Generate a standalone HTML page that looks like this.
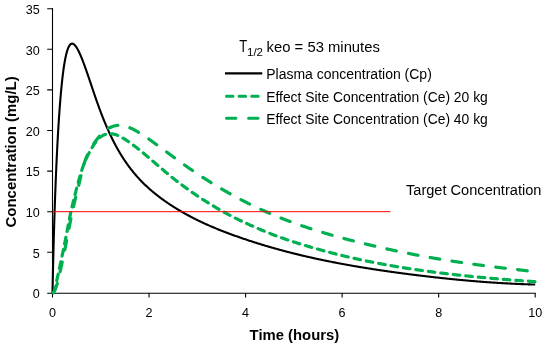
<!DOCTYPE html>
<html lang="en"><head><meta charset="utf-8"><title>Concentration vs Time</title>
<style>html,body{margin:0;padding:0;background:#fff}svg{display:block}text{font-family:"Liberation Sans",sans-serif;fill:#000}</style></head><body>
<svg width="550" height="349" viewBox="0 0 550 349">
<rect width="550" height="349" fill="#fff"/>
<path d="M52.5,8.10 V297.5 M47.2,293.2 H535.80 M47.2,252.30 H52.5 M47.2,211.70 H52.5 M47.2,171.10 H52.5 M47.2,130.50 H52.5 M47.2,89.90 H52.5 M47.2,49.30 H52.5 M47.2,8.70 H52.5 M149.04,293.2 V297.5 M245.58,293.2 V297.5 M342.12,293.2 V297.5 M438.66,293.2 V297.5 M535.20,293.2 V297.5" stroke="#000" stroke-width="1.1" fill="none"/>
<path d="M52.50,292.90 L52.51,292.20 L52.53,291.50 L52.54,290.80 L52.56,290.10 L52.57,289.40 L52.59,288.70 L52.60,288.00 L52.62,287.30 L52.64,286.60 L52.65,285.89 L52.67,285.19 L52.68,284.49 L52.70,283.79 L52.71,283.09 L52.73,282.39 L52.74,281.69 L52.76,280.99 L52.78,280.29 L52.79,279.59 L52.81,278.89 L52.83,278.19 L52.84,277.49 L52.86,276.79 L52.87,276.09 L52.89,275.39 L52.90,274.69 L52.92,273.99 L52.93,273.29 L52.95,272.58 L52.96,271.88 L52.98,271.18 L52.99,270.48 L53.01,269.78 L53.02,269.08 L53.04,268.38 L53.05,267.68 L53.07,266.98 L53.09,266.28 L53.10,265.58 L53.12,264.88 L53.13,264.18 L53.15,263.48 L53.17,262.78 L53.18,262.08 L53.20,261.38 L53.22,260.68 L53.23,259.98 L53.25,259.27 L53.27,258.57 L53.28,257.87 L53.30,257.17 L53.32,256.47 L53.34,255.77 L53.35,255.07 L53.37,254.37 L53.39,253.67 L53.41,252.97 L53.42,252.27 L53.44,251.57 L53.46,250.87 L53.48,250.17 L53.49,249.47 L53.51,248.77 L53.53,248.07 L53.55,247.37 L53.57,246.67 L53.59,245.97 L53.60,245.27 L53.62,244.56 L53.64,243.86 L53.66,243.16 L53.68,242.46 L53.70,241.76 L53.72,241.06 L53.74,240.36 L53.75,239.66 L53.77,238.96 L53.79,238.26 L53.81,237.56 L53.83,236.86 L53.85,236.16 L53.87,235.46 L53.89,234.76 L53.91,234.06 L53.93,233.36 L53.95,232.66 L53.97,231.96 L53.99,231.26 L54.01,230.56 L54.03,229.86 L54.05,229.16 L54.07,228.46 L54.09,227.75 L54.12,227.05 L54.14,226.35 L54.16,225.65 L54.18,224.95 L54.20,224.25 L54.22,223.55 L54.24,222.85 L54.26,222.15 L54.29,221.45 L54.31,220.75 L54.33,220.05 L54.35,219.35 L54.37,218.65 L54.40,217.95 L54.42,217.25 L54.44,216.55 L54.46,215.85 L54.48,215.15 L54.51,214.45 L54.53,213.75 L54.55,213.05 L54.58,212.35 L54.60,211.65 L54.62,210.95 L54.65,210.25 L54.67,209.55 L54.69,208.85 L54.72,208.15 L54.74,207.45 L54.76,206.74 L54.79,206.04 L54.81,205.34 L54.83,204.64 L54.86,203.94 L54.88,203.24 L54.91,202.54 L54.93,201.84 L54.96,201.14 L54.98,200.44 L55.01,199.74 L55.03,199.04 L55.06,198.34 L55.08,197.64 L55.11,196.94 L55.13,196.24 L55.16,195.54 L55.18,194.84 L55.21,194.14 L55.24,193.44 L55.26,192.74 L55.29,192.04 L55.32,191.34 L55.34,190.64 L55.37,189.94 L55.40,189.24 L55.42,188.54 L55.45,187.84 L55.48,187.14 L55.50,186.44 L55.53,185.74 L55.56,185.04 L55.59,184.34 L55.61,183.64 L55.64,182.94 L55.67,182.24 L55.70,181.54 L55.73,180.84 L55.75,180.14 L55.78,179.44 L55.81,178.74 L55.84,178.04 L55.87,177.34 L55.90,176.64 L55.93,175.94 L55.96,175.24 L55.99,174.54 L56.02,173.84 L56.05,173.14 L56.08,172.44 L56.11,171.74 L56.14,171.04 L56.17,170.34 L56.20,169.64 L56.23,168.94 L56.26,168.24 L56.29,167.54 L56.32,166.84 L56.35,166.14 L56.38,165.44 L56.42,164.74 L56.45,164.04 L56.48,163.34 L56.51,162.64 L56.54,161.94 L56.58,161.24 L56.61,160.54 L56.64,159.84 L56.68,159.14 L56.71,158.44 L56.74,157.74 L56.78,157.04 L56.81,156.34 L56.84,155.64 L56.88,154.94 L56.91,154.24 L56.95,153.54 L56.98,152.84 L57.02,152.14 L57.05,151.44 L57.09,150.74 L57.12,150.04 L57.16,149.34 L57.19,148.64 L57.23,147.94 L57.26,147.24 L57.30,146.54 L57.34,145.84 L57.37,145.14 L57.41,144.44 L57.45,143.74 L57.49,143.04 L57.52,142.34 L57.56,141.65 L57.60,140.95 L57.64,140.25 L57.68,139.55 L57.71,138.85 L57.75,138.15 L57.79,137.45 L57.83,136.75 L57.87,136.05 L57.91,135.35 L57.95,134.65 L57.99,133.95 L58.03,133.25 L58.07,132.55 L58.11,131.85 L58.15,131.15 L58.20,130.45 L58.24,129.75 L58.28,129.06 L58.32,128.36 L58.36,127.66 L58.41,126.96 L58.45,126.26 L58.49,125.56 L58.54,124.86 L58.58,124.16 L58.63,123.46 L58.67,122.76 L58.72,122.06 L58.76,121.36 L58.81,120.66 L58.85,119.97 L58.90,119.27 L58.94,118.57 L58.99,117.87 L59.04,117.17 L59.09,116.47 L59.13,115.77 L59.18,115.07 L59.23,114.37 L59.28,113.68 L59.33,112.98 L59.38,112.28 L59.43,111.58 L59.48,110.88 L59.53,110.18 L59.58,109.48 L59.63,108.78 L59.68,108.09 L59.73,107.39 L59.79,106.69 L59.84,105.99 L59.89,105.29 L59.95,104.59 L60.00,103.89 L60.05,103.20 L60.11,102.50 L60.17,101.80 L60.22,101.10 L60.28,100.40 L60.34,99.70 L60.39,99.01 L60.45,98.31 L60.51,97.61 L60.57,96.91 L60.63,96.21 L60.69,95.52 L60.75,94.82 L60.81,94.12 L60.87,93.42 L60.94,92.73 L61.00,92.03 L61.06,91.33 L61.13,90.63 L61.19,89.94 L61.26,89.24 L61.32,88.54 L61.39,87.84 L61.46,87.15 L61.53,86.45 L61.60,85.75 L61.67,85.06 L61.74,84.36 L61.81,83.66 L61.88,82.97 L61.96,82.27 L62.03,81.57 L62.11,80.88 L62.18,80.18 L62.26,79.48 L62.34,78.79 L62.42,78.09 L62.50,77.40 L62.58,76.70 L62.66,76.01 L62.75,75.31 L62.83,74.62 L62.92,73.92 L63.01,73.23 L63.10,72.53 L63.19,71.84 L63.28,71.14 L63.37,70.45 L63.47,69.76 L63.56,69.06 L63.66,68.37 L63.76,67.68 L63.86,66.98 L63.97,66.29 L64.07,65.60 L64.18,64.91 L64.29,64.22 L64.41,63.52 L64.52,62.83 L64.64,62.14 L64.76,61.46 L64.88,60.77 L65.01,60.08 L65.14,59.39 L65.27,58.70 L65.41,58.02 L65.55,57.33 L65.70,56.65 L65.85,55.96 L66.00,55.28 L66.16,54.60 L66.33,53.92 L66.50,53.24 L66.68,52.57 L66.87,51.90 L67.06,51.22 L67.27,50.56 L67.49,49.89 L67.71,49.23 L67.96,48.58 L68.22,47.93 L68.50,47.29 L68.80,46.67 L69.13,46.06 L69.49,45.47 L69.90,44.91 L70.37,44.41 L70.90,43.99 L71.51,43.70 L72.18,43.61 L72.84,43.73 L73.46,44.01 L74.03,44.40 L74.54,44.86 L75.02,45.37 L75.47,45.91 L75.89,46.46 L76.28,47.04 L76.66,47.63 L77.03,48.22 L77.38,48.83 L77.72,49.44 L78.05,50.06 L78.37,50.68 L78.68,51.31 L78.99,51.94 L79.29,52.57 L79.58,53.21 L79.87,53.84 L80.16,54.48 L80.44,55.13 L80.71,55.77 L80.99,56.42 L81.26,57.06 L81.52,57.71 L81.79,58.36 L82.05,59.01 L82.30,59.66 L82.56,60.32 L82.81,60.97 L83.06,61.62 L83.31,62.28 L83.56,62.93 L83.81,63.59 L84.05,64.25 L84.29,64.90 L84.54,65.56 L84.78,66.22 L85.01,66.88 L85.25,67.54 L85.49,68.20 L85.72,68.86 L85.96,69.52 L86.19,70.18 L86.42,70.84 L86.65,71.50 L86.89,72.16 L87.11,72.83 L87.34,73.49 L87.57,74.15 L87.80,74.81 L88.03,75.48 L88.25,76.14 L88.48,76.80 L88.71,77.47 L88.93,78.13 L89.16,78.79 L89.38,79.46 L89.60,80.12 L89.83,80.79 L90.05,81.45 L90.27,82.11 L90.50,82.78 L90.72,83.44 L90.94,84.11 L91.17,84.77 L91.39,85.44 L91.61,86.10 L91.84,86.76 L92.06,87.43 L92.28,88.09 L92.51,88.76 L92.73,89.42 L92.95,90.08 L93.18,90.75 L93.40,91.41 L93.63,92.08 L93.85,92.74 L94.08,93.40 L94.31,94.07 L94.53,94.73 L94.76,95.39 L94.99,96.05 L95.21,96.72 L95.44,97.38 L95.67,98.04 L95.90,98.70 L96.13,99.37 L96.36,100.03 L96.59,100.69 L96.82,101.35 L97.06,102.01 L97.29,102.67 L97.53,103.33 L97.76,103.99 L98.00,104.65 L98.23,105.31 L98.47,105.97 L98.71,106.63 L98.95,107.29 L99.19,107.95 L99.43,108.61 L99.68,109.26 L99.92,109.92 L100.16,110.58 L100.41,111.23 L100.66,111.89 L100.91,112.55 L101.15,113.20 L101.40,113.86 L101.66,114.51 L101.91,115.16 L102.16,115.82 L102.42,116.47 L102.68,117.12 L102.93,117.77 L103.19,118.42 L103.45,119.08 L103.72,119.73 L103.98,120.38 L104.24,121.03 L104.51,121.67 L104.78,122.32 L105.05,122.97 L105.32,123.62 L105.59,124.26 L105.86,124.91 L106.14,125.55 L106.41,126.20 L106.69,126.84 L106.97,127.48 L107.25,128.13 L107.53,128.77 L107.82,129.41 L108.10,130.05 L108.39,130.69 L108.68,131.33 L108.97,131.97 L109.26,132.60 L109.56,133.24 L109.85,133.88 L110.15,134.51 L110.45,135.15 L110.75,135.78 L111.05,136.41 L111.36,137.04 L111.67,137.67 L111.97,138.30 L112.28,138.93 L112.60,139.56 L112.91,140.19 L113.23,140.81 L113.55,141.44 L113.87,142.06 L114.19,142.68 L114.51,143.31 L114.84,143.93 L115.17,144.55 L115.50,145.16 L115.83,145.78 L116.17,146.40 L116.50,147.01 L116.84,147.63 L117.18,148.24 L117.53,148.85 L117.87,149.46 L118.22,150.07 L118.57,150.68 L118.92,151.28 L119.28,151.89 L119.63,152.49 L119.99,153.10 L120.36,153.70 L120.72,154.30 L121.09,154.89 L121.45,155.49 L121.83,156.09 L122.20,156.68 L122.58,157.27 L122.95,157.86 L123.33,158.45 L123.72,159.04 L124.10,159.62 L124.49,160.21 L124.88,160.79 L125.28,161.37 L125.67,161.95 L126.07,162.53 L126.47,163.10 L126.87,163.67 L127.28,164.25 L127.69,164.82 L128.10,165.38 L128.51,165.95 L128.93,166.51 L129.35,167.08 L129.77,167.64 L130.20,168.19 L130.62,168.75 L131.05,169.30 L131.48,169.86 L131.92,170.41 L132.36,170.95 L132.80,171.50 L133.24,172.04 L133.68,172.59 L134.13,173.13 L134.58,173.66 L135.03,174.20 L135.49,174.73 L135.95,175.26 L136.41,175.79 L136.87,176.32 L137.34,176.84 L137.80,177.36 L138.28,177.88 L138.75,178.40 L139.22,178.91 L139.70,179.42 L140.18,179.93 L140.67,180.44 L141.15,180.95 L141.64,181.45 L142.13,181.95 L142.62,182.45 L143.12,182.94 L143.62,183.44 L144.12,183.93 L144.62,184.41 L145.12,184.90 L145.63,185.38 L146.14,185.87 L146.65,186.34 L147.17,186.82 L147.68,187.30 L148.20,187.77 L148.72,188.24 L149.24,188.70 L149.77,189.17 L150.29,189.63 L150.82,190.09 L151.35,190.55 L151.89,191.00 L152.42,191.45 L152.96,191.90 L153.50,192.35 L154.04,192.80 L154.58,193.24 L155.12,193.68 L155.67,194.12 L156.22,194.56 L156.77,194.99 L157.32,195.43 L157.87,195.86 L158.43,196.28 L158.98,196.71 L159.54,197.13 L160.10,197.55 L160.66,197.97 L161.23,198.39 L161.79,198.81 L162.36,199.22 L162.92,199.63 L163.49,200.04 L164.06,200.44 L164.64,200.85 L165.21,201.25 L165.79,201.65 L166.36,202.05 L166.94,202.45 L167.52,202.84 L168.10,203.24 L168.68,203.63 L169.26,204.02 L169.85,204.41 L170.43,204.79 L171.02,205.17 L171.61,205.56 L172.20,205.94 L172.79,206.32 L173.38,206.69 L173.97,207.07 L174.56,207.44 L175.16,207.81 L175.75,208.18 L176.35,208.55 L176.95,208.91 L177.55,209.28 L178.15,209.64 L178.75,210.00 L179.35,210.36 L179.96,210.72 L180.56,211.07 L181.17,211.42 L181.77,211.78 L182.38,212.13 L182.99,212.48 L183.60,212.82 L184.21,213.17 L184.82,213.51 L185.43,213.85 L186.04,214.19 L186.66,214.53 L187.27,214.87 L187.89,215.20 L188.51,215.54 L189.12,215.87 L189.74,216.20 L190.36,216.53 L190.98,216.85 L191.61,217.18 L192.23,217.50 L192.85,217.83 L193.47,218.15 L194.10,218.46 L194.72,218.78 L195.35,219.10 L195.98,219.41 L196.61,219.72 L197.23,220.03 L197.86,220.34 L198.49,220.65 L199.13,220.96 L199.76,221.26 L200.39,221.56 L201.02,221.86 L201.66,222.16 L202.29,222.46 L202.93,222.76 L203.57,223.05 L204.20,223.34 L204.84,223.64 L205.48,223.93 L206.12,224.21 L206.76,224.50 L207.40,224.79 L208.04,225.07 L208.68,225.35 L209.32,225.63 L209.97,225.91 L210.61,226.19 L211.25,226.47 L211.90,226.74 L212.54,227.02 L213.19,227.29 L213.84,227.56 L214.48,227.83 L215.13,228.10 L215.78,228.37 L216.43,228.64 L217.08,228.90 L217.73,229.16 L218.38,229.43 L219.03,229.69 L219.68,229.95 L220.33,230.21 L220.98,230.47 L221.63,230.72 L222.29,230.98 L222.94,231.23 L223.59,231.49 L224.25,231.74 L224.90,231.99 L225.55,232.24 L226.21,232.49 L226.86,232.74 L227.52,232.99 L228.18,233.24 L228.83,233.48 L229.49,233.73 L230.15,233.97 L230.80,234.21 L231.46,234.45 L232.12,234.70 L232.78,234.94 L233.44,235.17 L234.10,235.41 L234.75,235.65 L235.41,235.89 L236.07,236.12 L236.73,236.36 L237.39,236.59 L238.06,236.83 L238.72,237.06 L239.38,237.29 L240.04,237.52 L240.70,237.75 L241.36,237.98 L242.03,238.21 L242.69,238.43 L243.35,238.66 L244.01,238.89 L244.68,239.11 L245.34,239.33 L246.01,239.56 L246.67,239.78 L247.34,240.00 L248.00,240.22 L248.67,240.44 L249.33,240.66 L250.00,240.88 L250.66,241.10 L251.33,241.31 L251.99,241.53 L252.66,241.75 L253.33,241.96 L254.00,242.17 L254.66,242.39 L255.33,242.60 L256.00,242.81 L256.67,243.02 L257.33,243.23 L258.00,243.44 L258.67,243.65 L259.34,243.86 L260.01,244.06 L260.68,244.27 L261.35,244.47 L262.02,244.68 L262.69,244.88 L263.36,245.08 L264.03,245.29 L264.70,245.49 L265.37,245.69 L266.04,245.89 L266.72,246.09 L267.39,246.29 L268.06,246.48 L268.73,246.68 L269.40,246.88 L270.08,247.07 L270.75,247.27 L271.42,247.46 L272.10,247.65 L272.77,247.85 L273.44,248.04 L274.12,248.23 L274.79,248.42 L275.47,248.61 L276.14,248.80 L276.82,248.98 L277.49,249.17 L278.17,249.36 L278.84,249.54 L279.52,249.73 L280.19,249.91 L280.87,250.10 L281.54,250.28 L282.22,250.46 L282.90,250.65 L283.57,250.83 L284.25,251.01 L284.93,251.19 L285.60,251.37 L286.28,251.54 L286.96,251.72 L287.64,251.90 L288.32,252.07 L288.99,252.25 L289.67,252.42 L290.35,252.60 L291.03,252.77 L291.71,252.94 L292.39,253.11 L293.07,253.29 L293.75,253.46 L294.43,253.63 L295.10,253.80 L295.78,253.96 L296.46,254.13 L297.15,254.30 L297.83,254.47 L298.51,254.63 L299.19,254.80 L299.87,254.96 L300.55,255.12 L301.23,255.29 L301.91,255.45 L302.59,255.61 L303.27,255.77 L303.96,255.93 L304.64,256.09 L305.32,256.25 L306.00,256.41 L306.69,256.57 L307.37,256.72 L308.05,256.88 L308.73,257.04 L309.42,257.19 L310.10,257.35 L310.78,257.50 L311.47,257.65 L312.15,257.81 L312.83,257.96 L313.52,258.11 L314.20,258.26 L314.89,258.41 L315.57,258.56 L316.25,258.71 L316.94,258.86 L317.62,259.01 L318.31,259.15 L318.99,259.30 L319.68,259.45 L320.36,259.59 L321.05,259.74 L321.74,259.88 L322.42,260.02 L323.11,260.17 L323.79,260.31 L324.48,260.45 L325.16,260.59 L325.85,260.73 L326.54,260.87 L327.22,261.01 L327.91,261.15 L328.60,261.29 L329.28,261.43 L329.97,261.56 L330.66,261.70 L331.34,261.84 L332.03,261.97 L332.72,262.11 L333.41,262.24 L334.09,262.38 L334.78,262.51 L335.47,262.64 L336.16,262.78 L336.85,262.91 L337.53,263.04 L338.22,263.17 L338.91,263.30 L339.60,263.43 L340.29,263.56 L340.98,263.69 L341.66,263.82 L342.35,263.94 L343.04,264.07 L343.73,264.20 L344.42,264.32 L345.11,264.45 L345.80,264.57 L346.49,264.70 L347.18,264.82 L347.87,264.95 L348.56,265.07 L349.25,265.19 L349.94,265.32 L350.63,265.44 L351.32,265.56 L352.01,265.68 L352.70,265.80 L353.39,265.92 L354.08,266.04 L354.77,266.16 L355.46,266.28 L356.15,266.39 L356.84,266.51 L357.53,266.63 L358.22,266.74 L358.91,266.86 L359.60,266.98 L360.29,267.09 L360.98,267.21 L361.67,267.32 L362.37,267.43 L363.06,267.55 L363.75,267.66 L364.44,267.77 L365.13,267.89 L365.82,268.00 L366.51,268.11 L367.21,268.22 L367.90,268.33 L368.59,268.44 L369.28,268.55 L369.97,268.66 L370.67,268.77 L371.36,268.88 L372.05,268.98 L372.74,269.09 L373.44,269.20 L374.13,269.31 L374.82,269.41 L375.51,269.52 L376.21,269.62 L376.90,269.73 L377.59,269.83 L378.28,269.94 L378.98,270.04 L379.67,270.14 L380.36,270.25 L381.06,270.35 L381.75,270.45 L382.44,270.56 L383.13,270.66 L383.83,270.76 L384.52,270.86 L385.21,270.96 L385.91,271.06 L386.60,271.16 L387.30,271.26 L387.99,271.36 L388.68,271.46 L389.38,271.56 L390.07,271.65 L390.76,271.75 L391.46,271.85 L392.15,271.95 L392.85,272.04 L393.54,272.14 L394.23,272.23 L394.93,272.33 L395.62,272.43 L396.32,272.52 L397.01,272.61 L397.70,272.71 L398.40,272.80 L399.09,272.90 L399.79,272.99 L400.48,273.08 L401.18,273.18 L401.87,273.27 L402.57,273.36 L403.26,273.45 L403.96,273.54 L404.65,273.63 L405.35,273.72 L406.04,273.82 L406.73,273.91 L407.43,274.00 L408.12,274.08 L408.82,274.17 L409.51,274.26 L410.21,274.35 L410.91,274.44 L411.60,274.53 L412.30,274.62 L412.99,274.70 L413.69,274.79 L414.38,274.88 L415.08,274.96 L415.77,275.05 L416.47,275.14 L417.16,275.22 L417.86,275.31 L418.55,275.39 L419.25,275.48 L419.95,275.56 L420.64,275.65 L421.34,275.73 L422.03,275.81 L422.73,275.90 L423.42,275.98 L424.12,276.06 L424.82,276.15 L425.51,276.23 L426.21,276.31 L426.90,276.39 L427.60,276.47 L428.30,276.55 L428.99,276.64 L429.69,276.72 L430.39,276.80 L431.08,276.88 L431.78,276.96 L432.47,277.03 L433.17,277.11 L433.87,277.19 L434.56,277.27 L435.26,277.35 L435.96,277.43 L436.65,277.50 L437.35,277.58 L438.05,277.66 L438.74,277.73 L439.44,277.81 L440.14,277.88 L440.83,277.96 L441.53,278.03 L442.23,278.11 L442.92,278.18 L443.62,278.26 L444.32,278.33 L445.02,278.40 L445.71,278.48 L446.41,278.55 L447.11,278.62 L447.80,278.69 L448.50,278.77 L449.20,278.84 L449.90,278.91 L450.59,278.98 L451.29,279.05 L451.99,279.12 L452.69,279.19 L453.38,279.26 L454.08,279.33 L454.78,279.40 L455.48,279.46 L456.17,279.53 L456.87,279.60 L457.57,279.67 L458.27,279.73 L458.96,279.80 L459.66,279.86 L460.36,279.93 L461.06,280.00 L461.76,280.06 L462.45,280.13 L463.15,280.19 L463.85,280.25 L464.55,280.32 L465.25,280.38 L465.94,280.44 L466.64,280.50 L467.34,280.57 L468.04,280.63 L468.74,280.69 L469.43,280.75 L470.13,280.81 L470.83,280.87 L471.53,280.93 L472.23,280.99 L472.93,281.05 L473.63,281.11 L474.32,281.16 L475.02,281.22 L475.72,281.28 L476.42,281.34 L477.12,281.39 L477.82,281.45 L478.52,281.51 L479.21,281.56 L479.91,281.62 L480.61,281.67 L481.31,281.72 L482.01,281.78 L482.71,281.83 L483.41,281.88 L484.11,281.94 L484.81,281.99 L485.50,282.04 L486.20,282.09 L486.90,282.14 L487.60,282.19 L488.30,282.24 L489.00,282.29 L489.70,282.34 L490.40,282.39 L491.10,282.44 L491.80,282.49 L492.50,282.53 L493.20,282.58 L493.89,282.63 L494.59,282.67 L495.29,282.72 L495.99,282.76 L496.69,282.81 L497.39,282.85 L498.09,282.90 L498.79,282.94 L499.49,282.98 L500.19,283.02 L500.89,283.07 L501.59,283.11 L502.29,283.15 L502.99,283.19 L503.69,283.23 L504.39,283.27 L505.09,283.31 L505.79,283.35 L506.49,283.39 L507.19,283.42 L507.89,283.46 L508.59,283.50 L509.29,283.54 L509.99,283.57 L510.69,283.61 L511.39,283.64 L512.09,283.68 L512.79,283.71 L513.49,283.74 L514.19,283.78 L514.89,283.81 L515.59,283.84 L516.29,283.87 L516.99,283.91 L517.69,283.94 L518.39,283.97 L519.09,284.00 L519.79,284.03 L520.49,284.05 L521.19,284.08 L521.89,284.11 L522.59,284.14 L523.29,284.16 L523.99,284.19 L524.69,284.22 L525.39,284.24 L526.09,284.27 L526.79,284.29 L527.49,284.31 L528.19,284.34 L528.89,284.36 L529.60,284.38 L530.30,284.40 L531.00,284.43 L531.70,284.45 L532.40,284.47 L533.10,284.49 L533.80,284.50 L534.50,284.52 L535.20,284.54" stroke="#000" stroke-width="2.1" fill="none" stroke-linejoin="round"/>
<path d="M52.50,292.90 L53.14,292.65 L53.64,292.15 L54.04,291.57 L54.39,290.96 L54.71,290.32 L55.01,289.68 L55.29,289.02 L55.56,288.36 L55.82,287.69 L56.07,287.02 L56.31,286.35 L56.54,285.67 L56.77,285.00 L56.99,284.32 L57.21,283.64 L57.41,282.96 L57.61,282.28 L57.80,281.59 L57.98,280.91 L58.15,280.23 L58.31,279.54 L58.47,278.86 L58.63,278.18 L58.79,277.50 L58.95,276.81 L59.11,276.13 L59.26,275.45 L59.42,274.77 L59.58,274.08 L59.73,273.40 L59.88,272.72 L60.04,272.03 L60.19,271.35 L60.34,270.66 L60.49,269.98 L60.64,269.30 L60.80,268.61 L60.95,267.93 L61.10,267.24 L61.25,266.56 L61.40,265.87 L61.55,265.19 L61.69,264.50 L61.84,263.82 L61.99,263.13 L62.14,262.45 L62.29,261.76 L62.44,261.08 L62.58,260.39 L62.73,259.70 L62.88,259.02 L63.02,258.33 L63.17,257.65 L63.31,256.96 L63.46,256.28 L63.60,255.59 L63.74,254.90 L63.89,254.22 L64.03,253.53 L64.17,252.84 L64.32,252.16 L64.46,251.47 L64.60,250.78 L64.74,250.10 L64.88,249.41 L65.02,248.72 L65.16,248.03 L65.29,247.35 L65.43,246.66 L65.57,245.97 L65.70,245.28 L65.84,244.60 L65.98,243.91 L66.11,243.22 L66.25,242.53 L66.38,241.84 L66.52,241.16 L66.65,240.47 L66.78,239.78 L66.92,239.09 L67.05,238.40 L67.19,237.72 L67.32,237.03 L67.45,236.34 L67.59,235.65 L67.72,234.96 L67.85,234.27 L67.99,233.59 L68.12,232.90 L68.25,232.21 L68.39,231.52 L68.52,230.83 L68.65,230.14 L68.79,229.46 L68.92,228.77 L69.05,228.08 L69.19,227.39 L69.32,226.70 L69.46,226.02 L69.59,225.33 L69.73,224.64 L69.87,223.95 L70.00,223.26 L70.14,222.58 L70.28,221.89 L70.41,221.20 L70.55,220.52 L70.69,219.83 L70.83,219.14 L70.97,218.45 L71.11,217.77 L71.25,217.08 L71.39,216.39 L71.53,215.71 L71.68,215.02 L71.82,214.33 L71.97,213.65 L72.11,212.96 L72.26,212.28 L72.40,211.59 L72.55,210.91 L72.70,210.22 L72.85,209.54 L73.00,208.85 L73.15,208.17 L73.30,207.48 L73.45,206.80 L73.61,206.11 L73.76,205.43 L73.92,204.75 L74.08,204.06 L74.24,203.38 L74.40,202.70 L74.56,202.02 L74.72,201.33 L74.88,200.65 L75.05,199.97 L75.21,199.29 L75.38,198.61 L75.54,197.93 L75.71,197.25 L75.88,196.57 L76.05,195.89 L76.22,195.21 L76.39,194.53 L76.56,193.85 L76.73,193.17 L76.91,192.49 L77.08,191.81 L77.25,191.13 L77.43,190.45 L77.60,189.77 L77.77,189.09 L77.95,188.41 L78.12,187.74 L78.29,187.06 L78.45,186.38 L78.62,185.70 L78.78,185.02 L78.95,184.35 L79.11,183.67 L79.27,182.99 L79.43,182.31 L79.59,181.63 L79.75,180.96 L79.91,180.28 L80.06,179.60 L80.22,178.92 L80.38,178.24 L80.53,177.57 L80.69,176.89 L80.84,176.21 L81.00,175.53 L81.15,174.85 L81.31,174.17 L81.47,173.50 L81.63,172.82 L81.79,172.14 L81.95,171.47 L82.12,170.79 L82.29,170.11 L82.46,169.44 L82.63,168.76 L82.81,168.09 L82.99,167.42 L83.18,166.74 L83.37,166.07 L83.56,165.40 L83.76,164.73 L83.97,164.06 L84.18,163.40 L84.39,162.73 L84.61,162.07 L84.84,161.40 L85.08,160.74 L85.32,160.08 L85.56,159.42 L85.82,158.77 L86.08,158.11 L86.34,157.46 L86.61,156.81 L86.89,156.17 L87.17,155.52 L87.46,154.88 L87.75,154.24 L88.05,153.61 L88.36,152.97 L88.68,152.35 L89.00,151.72 L89.33,151.10 L89.67,150.48 L90.01,149.86 L90.35,149.25 L90.71,148.64 L91.06,148.04 L91.42,147.44 L91.79,146.84 L92.16,146.24 L92.54,145.65 L92.92,145.06 L93.30,144.48 L93.69,143.89 L94.08,143.32 L94.48,142.74 L94.88,142.17 L95.28,141.60 L95.69,141.04 L96.10,140.47 L96.51,139.92 L96.92,139.36 L97.34,138.81 L97.77,138.26 L98.19,137.72 L98.62,137.18 L99.05,136.64 L99.49,136.11 L99.93,135.58 L100.38,135.06 L100.84,134.54 L101.30,134.03 L101.77,133.52 L102.25,133.03 L102.73,132.54 L103.23,132.07 L103.74,131.60 L104.26,131.14 L104.79,130.70 L105.33,130.27 L105.88,129.86 L106.45,129.46 L107.03,129.08 L107.62,128.72 L108.22,128.38 L108.84,128.05 L109.46,127.75 L110.09,127.46 L110.73,127.18 L111.39,126.93 L112.04,126.69 L112.71,126.46 L113.38,126.25 L114.07,126.06 L114.75,125.89 L115.45,125.74 L116.15,125.61 L116.86,125.50 L117.58,125.42 L118.29,125.37 L119.01,125.34 L119.73,125.34 L120.45,125.37 L121.17,125.42 L121.88,125.49 L122.59,125.59 L123.30,125.71 L124.01,125.85 L124.71,126.01 L125.40,126.18 L126.09,126.38 L126.77,126.59 L127.45,126.81 L128.12,127.05 L128.79,127.30 L129.45,127.57 L130.10,127.85 L130.75,128.14 L131.40,128.43 L132.04,128.74 L132.67,129.05 L133.30,129.37 L133.93,129.70 L134.55,130.03 L135.17,130.37 L135.79,130.71 L136.40,131.06 L137.01,131.41 L137.62,131.76 L138.23,132.12 L138.83,132.48 L139.43,132.85 L140.03,133.22 L140.62,133.59 L141.22,133.97 L141.81,134.34 L142.40,134.72 L142.99,135.11 L143.58,135.49 L144.16,135.88 L144.75,136.27 L145.33,136.66 L145.91,137.05 L146.49,137.45 L147.07,137.84 L147.64,138.24 L148.22,138.64 L148.80,139.04 L149.37,139.44 L149.94,139.84 L150.52,140.25 L151.09,140.65 L151.66,141.06 L152.23,141.47 L152.80,141.88 L153.37,142.29 L153.94,142.70 L154.50,143.11 L155.07,143.52 L155.64,143.93 L156.21,144.34 L156.77,144.75 L157.34,145.17 L157.90,145.58 L158.47,146.00 L159.03,146.41 L159.60,146.83 L160.16,147.24 L160.73,147.66 L161.29,148.07 L161.86,148.49 L162.42,148.90 L162.98,149.32 L163.55,149.74 L164.11,150.15 L164.68,150.57 L165.24,150.98 L165.80,151.40 L166.37,151.82 L166.93,152.23 L167.50,152.65 L168.06,153.06 L168.63,153.48 L169.19,153.90 L169.76,154.31 L170.32,154.73 L170.89,155.14 L171.45,155.56 L172.02,155.97 L172.58,156.38 L173.15,156.80 L173.72,157.21 L174.28,157.62 L174.85,158.04 L175.42,158.45 L175.98,158.86 L176.55,159.27 L177.12,159.68 L177.69,160.09 L178.26,160.50 L178.83,160.91 L179.40,161.32 L179.97,161.73 L180.54,162.14 L181.11,162.54 L181.68,162.95 L182.25,163.36 L182.82,163.76 L183.40,164.17 L183.97,164.57 L184.54,164.98 L185.12,165.38 L185.69,165.78 L186.26,166.19 L186.84,166.59 L187.42,166.99 L187.99,167.39 L188.57,167.79 L189.14,168.19 L189.72,168.58 L190.30,168.98 L190.88,169.38 L191.46,169.77 L192.04,170.17 L192.62,170.56 L193.20,170.96 L193.78,171.35 L194.36,171.74 L194.94,172.13 L195.52,172.53 L196.10,172.92 L196.69,173.30 L197.27,173.69 L197.86,174.08 L198.44,174.47 L199.02,174.85 L199.61,175.24 L200.20,175.62 L200.78,176.01 L201.37,176.39 L201.96,176.77 L202.55,177.16 L203.13,177.54 L203.72,177.92 L204.31,178.30 L204.90,178.67 L205.49,179.05 L206.08,179.43 L206.68,179.81 L207.27,180.18 L207.86,180.56 L208.45,180.93 L209.05,181.30 L209.64,181.67 L210.24,182.05 L210.83,182.42 L211.43,182.79 L212.02,183.15 L212.62,183.52 L213.22,183.89 L213.81,184.26 L214.41,184.62 L215.01,184.99 L215.61,185.35 L216.21,185.71 L216.81,186.08 L217.41,186.44 L218.01,186.80 L218.61,187.16 L219.21,187.52 L219.82,187.87 L220.42,188.23 L221.02,188.59 L221.63,188.94 L222.23,189.30 L222.84,189.65 L223.44,190.00 L224.05,190.35 L224.66,190.70 L225.26,191.05 L225.87,191.40 L226.48,191.75 L227.09,192.10 L227.70,192.44 L228.31,192.79 L228.92,193.13 L229.53,193.48 L230.14,193.82 L230.75,194.16 L231.37,194.50 L231.98,194.84 L232.59,195.18 L233.21,195.51 L233.82,195.85 L234.44,196.19 L235.05,196.52 L235.67,196.85 L236.29,197.19 L236.91,197.52 L237.52,197.85 L238.14,198.18 L238.76,198.51 L239.38,198.83 L240.00,199.16 L240.62,199.48 L241.24,199.81 L241.87,200.13 L242.49,200.45 L243.11,200.78 L243.73,201.10 L244.36,201.42 L244.98,201.73 L245.61,202.05 L246.23,202.37 L246.86,202.68 L247.49,203.00 L248.11,203.31 L248.74,203.62 L249.37,203.93 L250.00,204.24 L250.63,204.55 L251.26,204.86 L251.89,205.17 L252.52,205.47 L253.15,205.78 L253.78,206.08 L254.41,206.39 L255.04,206.69 L255.68,206.99 L256.31,207.29 L256.95,207.59 L257.58,207.89 L258.22,208.18 L258.85,208.48 L259.49,208.77 L260.12,209.07 L260.76,209.36 L261.40,209.65 L262.04,209.94 L262.67,210.23 L263.31,210.52 L263.95,210.81 L264.59,211.09 L265.23,211.38 L265.87,211.66 L266.52,211.94 L267.16,212.23 L267.80,212.51 L268.44,212.79 L269.09,213.07 L269.73,213.34 L270.37,213.62 L271.02,213.90 L271.66,214.17 L272.31,214.45 L272.96,214.72 L273.60,214.99 L274.25,215.26 L274.90,215.53 L275.54,215.80 L276.19,216.07 L276.84,216.33 L277.49,216.60 L278.14,216.86 L278.79,217.13 L279.44,217.39 L280.09,217.65 L280.74,217.91 L281.39,218.17 L282.04,218.43 L282.70,218.68 L283.35,218.94 L284.00,219.20 L284.66,219.45 L285.31,219.70 L285.96,219.95 L286.62,220.20 L287.27,220.45 L287.93,220.70 L288.59,220.95 L289.24,221.20 L289.90,221.44 L290.56,221.69 L291.21,221.93 L291.87,222.18 L292.53,222.42 L293.19,222.66 L293.85,222.90 L294.51,223.14 L295.16,223.38 L295.82,223.61 L296.48,223.85 L297.15,224.08 L297.81,224.32 L298.47,224.55 L299.13,224.78 L299.79,225.01 L300.45,225.25 L301.12,225.47 L301.78,225.70 L302.44,225.93 L303.10,226.16 L303.77,226.38 L304.43,226.61 L305.10,226.83 L305.76,227.06 L306.43,227.28 L307.09,227.50 L307.76,227.72 L308.42,227.94 L309.09,228.16 L309.76,228.38 L310.42,228.60 L311.09,228.81 L311.76,229.03 L312.42,229.24 L313.09,229.46 L313.76,229.67 L314.43,229.88 L315.10,230.09 L315.76,230.30 L316.43,230.51 L317.10,230.72 L317.77,230.93 L318.44,231.14 L319.11,231.35 L319.78,231.55 L320.45,231.76 L321.12,231.96 L321.79,232.17 L322.46,232.37 L323.13,232.57 L323.81,232.77 L324.48,232.97 L325.15,233.17 L325.82,233.37 L326.49,233.57 L327.17,233.77 L327.84,233.97 L328.51,234.16 L329.19,234.36 L329.86,234.55 L330.53,234.75 L331.21,234.94 L331.88,235.13 L332.55,235.33 L333.23,235.52 L333.90,235.71 L334.58,235.90 L335.25,236.09 L335.93,236.28 L336.60,236.47 L337.28,236.66 L337.95,236.84 L338.63,237.03 L339.30,237.21 L339.98,237.40 L340.66,237.58 L341.33,237.77 L342.01,237.95 L342.69,238.13 L343.36,238.32 L344.04,238.50 L344.72,238.68 L345.40,238.86 L346.07,239.04 L346.75,239.22 L347.43,239.40 L348.11,239.58 L348.78,239.75 L349.46,239.93 L350.14,240.11 L350.82,240.28 L351.50,240.46 L352.18,240.63 L352.86,240.81 L353.53,240.98 L354.21,241.15 L354.89,241.33 L355.57,241.50 L356.25,241.67 L356.93,241.84 L357.61,242.01 L358.29,242.18 L358.97,242.35 L359.65,242.52 L360.33,242.69 L361.01,242.86 L361.69,243.03 L362.37,243.20 L363.05,243.36 L363.74,243.53 L364.42,243.69 L365.10,243.86 L365.78,244.02 L366.46,244.19 L367.14,244.35 L367.82,244.52 L368.51,244.68 L369.19,244.84 L369.87,245.01 L370.55,245.17 L371.23,245.33 L371.92,245.49 L372.60,245.65 L373.28,245.81 L373.96,245.97 L374.65,246.13 L375.33,246.29 L376.01,246.45 L376.69,246.60 L377.38,246.76 L378.06,246.92 L378.74,247.07 L379.43,247.23 L380.11,247.39 L380.79,247.54 L381.48,247.70 L382.16,247.85 L382.85,248.00 L383.53,248.16 L384.21,248.31 L384.90,248.46 L385.58,248.61 L386.27,248.76 L386.95,248.92 L387.64,249.07 L388.32,249.22 L389.01,249.37 L389.69,249.51 L390.38,249.66 L391.06,249.81 L391.75,249.96 L392.43,250.11 L393.12,250.25 L393.80,250.40 L394.49,250.55 L395.17,250.69 L395.86,250.84 L396.55,250.98 L397.23,251.13 L397.92,251.27 L398.61,251.41 L399.29,251.56 L399.98,251.70 L400.66,251.84 L401.35,251.98 L402.04,252.12 L402.73,252.26 L403.41,252.40 L404.10,252.54 L404.79,252.68 L405.47,252.82 L406.16,252.96 L406.85,253.10 L407.54,253.23 L408.22,253.37 L408.91,253.51 L409.60,253.64 L410.29,253.78 L410.98,253.91 L411.66,254.05 L412.35,254.18 L413.04,254.31 L413.73,254.45 L414.42,254.58 L415.11,254.71 L415.79,254.84 L416.48,254.97 L417.17,255.11 L417.86,255.24 L418.55,255.37 L419.24,255.50 L419.93,255.62 L420.62,255.75 L421.31,255.88 L422.00,256.01 L422.69,256.13 L423.38,256.26 L424.07,256.39 L424.76,256.51 L425.44,256.64 L426.13,256.76 L426.83,256.89 L427.52,257.01 L428.21,257.13 L428.90,257.26 L429.59,257.38 L430.28,257.50 L430.97,257.62 L431.66,257.74 L432.35,257.86 L433.04,257.98 L433.73,258.10 L434.42,258.22 L435.11,258.34 L435.80,258.46 L436.50,258.58 L437.19,258.69 L437.88,258.81 L438.57,258.93 L439.26,259.04 L439.95,259.16 L440.64,259.27 L441.34,259.38 L442.03,259.50 L442.72,259.61 L443.41,259.72 L444.10,259.84 L444.80,259.95 L445.49,260.06 L446.18,260.17 L446.87,260.28 L447.57,260.39 L448.26,260.50 L448.95,260.61 L449.64,260.72 L450.34,260.83 L451.03,260.93 L451.72,261.04 L452.42,261.15 L453.11,261.25 L453.80,261.36 L454.50,261.47 L455.19,261.57 L455.88,261.67 L456.58,261.78 L457.27,261.88 L457.96,261.99 L458.66,262.09 L459.35,262.19 L460.04,262.29 L460.74,262.40 L461.43,262.50 L462.12,262.60 L462.82,262.70 L463.51,262.80 L464.21,262.90 L464.90,263.00 L465.60,263.10 L466.29,263.20 L466.98,263.30 L467.68,263.39 L468.37,263.49 L469.07,263.59 L469.76,263.69 L470.46,263.78 L471.15,263.88 L471.84,263.98 L472.54,264.07 L473.23,264.17 L473.93,264.26 L474.62,264.36 L475.32,264.45 L476.01,264.55 L476.71,264.64 L477.40,264.73 L478.10,264.83 L478.79,264.92 L479.49,265.01 L480.18,265.10 L480.88,265.19 L481.57,265.29 L482.27,265.38 L482.96,265.47 L483.66,265.56 L484.35,265.65 L485.05,265.74 L485.74,265.83 L486.44,265.92 L487.14,266.01 L487.83,266.10 L488.53,266.19 L489.22,266.27 L489.92,266.36 L490.61,266.45 L491.31,266.54 L492.00,266.63 L492.70,266.71 L493.40,266.80 L494.09,266.89 L494.79,266.97 L495.48,267.06 L496.18,267.15 L496.88,267.23 L497.57,267.32 L498.27,267.40 L498.96,267.49 L499.66,267.57 L500.35,267.66 L501.05,267.74 L501.75,267.82 L502.44,267.91 L503.14,267.99 L503.84,268.08 L504.53,268.16 L505.23,268.24 L505.92,268.33 L506.62,268.41 L507.32,268.49 L508.01,268.57 L508.71,268.66 L509.41,268.74 L510.10,268.82 L510.80,268.90 L511.49,268.98 L512.19,269.06 L512.89,269.14 L513.58,269.23 L514.28,269.31 L514.98,269.39 L515.67,269.47 L516.37,269.55 L517.07,269.63 L517.76,269.71 L518.46,269.79 L519.16,269.87 L519.85,269.95 L520.55,270.03 L521.25,270.11 L521.94,270.19 L522.64,270.27 L523.34,270.34 L524.03,270.42 L524.73,270.50 L525.43,270.58 L526.12,270.66 L526.82,270.74 L527.52,270.82 L528.21,270.89 L528.91,270.97 L529.61,271.05 L530.30,271.13 L531.00,271.21 L531.70,271.28 L532.39,271.36 L533.09,271.44 L533.79,271.52 L534.49,271.59 L535.18,271.67" stroke="#00b050" stroke-width="3.2" fill="none" stroke-linecap="round" stroke-linejoin="round" stroke-dasharray="9.7 12.376" stroke-dashoffset="-1"/>
<path d="M52.50,292.90 L53.15,292.67 L53.65,292.19 L54.04,291.62 L54.37,291.01 L54.64,290.37 L54.88,289.73 L55.10,289.08 L55.29,288.42 L55.46,287.75 L55.62,287.08 L55.76,286.41 L55.89,285.73 L56.02,285.06 L56.14,284.38 L56.25,283.70 L56.37,283.02 L56.48,282.33 L56.60,281.65 L56.71,280.96 L56.83,280.28 L56.96,279.59 L57.11,278.91 L57.26,278.23 L57.42,277.55 L57.57,276.86 L57.73,276.18 L57.88,275.50 L58.03,274.81 L58.19,274.13 L58.34,273.45 L58.49,272.76 L58.64,272.08 L58.79,271.39 L58.94,270.71 L59.08,270.02 L59.23,269.34 L59.38,268.65 L59.53,267.97 L59.68,267.28 L59.82,266.60 L59.97,265.91 L60.12,265.23 L60.26,264.54 L60.41,263.86 L60.55,263.17 L60.70,262.49 L60.85,261.80 L60.99,261.11 L61.14,260.43 L61.28,259.74 L61.43,259.06 L61.57,258.37 L61.72,257.68 L61.86,257.00 L62.01,256.31 L62.15,255.63 L62.30,254.94 L62.44,254.25 L62.58,253.57 L62.73,252.88 L62.87,252.19 L63.01,251.51 L63.16,250.82 L63.30,250.13 L63.44,249.45 L63.59,248.76 L63.73,248.07 L63.87,247.39 L64.01,246.70 L64.15,246.01 L64.29,245.32 L64.43,244.64 L64.57,243.95 L64.71,243.26 L64.85,242.58 L64.99,241.89 L65.13,241.20 L65.27,240.51 L65.41,239.83 L65.55,239.14 L65.68,238.45 L65.82,237.76 L65.96,237.07 L66.09,236.39 L66.23,235.70 L66.36,235.01 L66.50,234.32 L66.63,233.63 L66.76,232.94 L66.89,232.25 L67.03,231.57 L67.16,230.88 L67.29,230.19 L67.42,229.50 L67.55,228.81 L67.68,228.12 L67.81,227.43 L67.94,226.74 L68.07,226.05 L68.20,225.36 L68.33,224.67 L68.46,223.99 L68.59,223.30 L68.72,222.61 L68.85,221.92 L68.99,221.23 L69.12,220.54 L69.25,219.85 L69.39,219.16 L69.52,218.48 L69.66,217.79 L69.80,217.10 L69.93,216.41 L70.07,215.72 L70.22,215.04 L70.36,214.35 L70.50,213.66 L70.65,212.98 L70.79,212.29 L70.94,211.61 L71.09,210.92 L71.24,210.24 L71.40,209.55 L71.55,208.87 L71.71,208.18 L71.86,207.50 L72.02,206.82 L72.18,206.13 L72.35,205.45 L72.51,204.77 L72.67,204.09 L72.84,203.41 L73.00,202.72 L73.17,202.04 L73.34,201.36 L73.50,200.68 L73.67,200.00 L73.84,199.32 L74.01,198.64 L74.18,197.96 L74.35,197.28 L74.53,196.60 L74.70,195.92 L74.87,195.24 L75.04,194.56 L75.22,193.88 L75.39,193.20 L75.56,192.52 L75.74,191.84 L75.91,191.16 L76.08,190.48 L76.25,189.80 L76.43,189.13 L76.60,188.45 L76.78,187.77 L76.96,187.09 L77.14,186.41 L77.32,185.73 L77.51,185.05 L77.69,184.37 L77.88,183.69 L78.06,183.01 L78.25,182.33 L78.44,181.65 L78.63,180.97 L78.82,180.29 L79.01,179.61 L79.20,178.93 L79.39,178.25 L79.58,177.57 L79.78,176.89 L79.97,176.21 L80.17,175.53 L80.36,174.85 L80.56,174.17 L80.76,173.49 L80.96,172.81 L81.17,172.13 L81.38,171.45 L81.59,170.78 L81.80,170.10 L82.02,169.43 L82.24,168.76 L82.47,168.09 L82.70,167.42 L82.94,166.75 L83.18,166.08 L83.43,165.42 L83.68,164.76 L83.93,164.10 L84.19,163.45 L84.46,162.79 L84.73,162.14 L85.00,161.49 L85.28,160.85 L85.56,160.20 L85.84,159.56 L86.12,158.92 L86.42,158.28 L86.71,157.64 L87.01,157.01 L87.32,156.38 L87.63,155.75 L87.94,155.12 L88.26,154.49 L88.58,153.87 L88.90,153.25 L89.23,152.63 L89.56,152.02 L89.89,151.40 L90.23,150.79 L90.57,150.18 L90.92,149.58 L91.26,148.97 L91.61,148.37 L91.97,147.77 L92.33,147.18 L92.69,146.58 L93.06,145.99 L93.43,145.41 L93.81,144.82 L94.19,144.24 L94.58,143.67 L94.98,143.10 L95.38,142.53 L95.79,141.97 L96.22,141.42 L96.65,140.87 L97.10,140.34 L97.55,139.81 L98.03,139.30 L98.51,138.80 L99.01,138.31 L99.53,137.84 L100.07,137.39 L100.62,136.95 L101.19,136.54 L101.77,136.14 L102.37,135.78 L102.99,135.43 L103.62,135.12 L104.27,134.83 L104.93,134.58 L105.60,134.35 L106.29,134.16 L106.98,134.00 L107.68,133.88 L108.39,133.79 L109.10,133.73 L109.81,133.71 L110.52,133.72 L111.23,133.76 L111.94,133.83 L112.65,133.93 L113.34,134.06 L114.04,134.21 L114.72,134.38 L115.40,134.58 L116.08,134.79 L116.74,135.03 L117.40,135.28 L118.05,135.55 L118.70,135.83 L119.34,136.12 L119.97,136.43 L120.60,136.75 L121.22,137.07 L121.83,137.41 L122.44,137.76 L123.05,138.11 L123.65,138.47 L124.25,138.83 L124.84,139.21 L125.43,139.58 L126.02,139.96 L126.61,140.35 L127.19,140.73 L127.77,141.13 L128.35,141.52 L128.92,141.92 L129.50,142.32 L130.07,142.73 L130.64,143.14 L131.21,143.55 L131.77,143.96 L132.34,144.38 L132.90,144.79 L133.46,145.21 L134.02,145.64 L134.58,146.06 L135.13,146.49 L135.69,146.92 L136.24,147.35 L136.79,147.78 L137.34,148.21 L137.89,148.65 L138.44,149.08 L138.99,149.52 L139.54,149.96 L140.08,150.40 L140.63,150.84 L141.17,151.29 L141.71,151.73 L142.26,152.17 L142.80,152.62 L143.34,153.07 L143.88,153.51 L144.42,153.96 L144.96,154.41 L145.49,154.86 L146.03,155.31 L146.57,155.76 L147.10,156.22 L147.64,156.67 L148.18,157.12 L148.71,157.57 L149.24,158.03 L149.78,158.48 L150.31,158.94 L150.85,159.39 L151.38,159.85 L151.91,160.31 L152.44,160.76 L152.98,161.22 L153.51,161.68 L154.04,162.14 L154.57,162.59 L155.10,163.05 L155.63,163.51 L156.16,163.97 L156.69,164.43 L157.23,164.88 L157.76,165.34 L158.29,165.80 L158.82,166.26 L159.35,166.72 L159.88,167.17 L160.41,167.63 L160.95,168.09 L161.48,168.54 L162.01,169.00 L162.55,169.45 L163.08,169.91 L163.61,170.36 L164.15,170.82 L164.68,171.27 L165.22,171.72 L165.76,172.17 L166.29,172.62 L166.83,173.07 L167.37,173.52 L167.91,173.97 L168.45,174.42 L168.99,174.87 L169.53,175.31 L170.08,175.76 L170.62,176.20 L171.16,176.64 L171.71,177.08 L172.26,177.52 L172.80,177.96 L173.35,178.40 L173.90,178.84 L174.45,179.27 L175.00,179.71 L175.55,180.14 L176.11,180.57 L176.66,181.00 L177.21,181.43 L177.77,181.86 L178.33,182.28 L178.88,182.71 L179.44,183.13 L180.00,183.56 L180.56,183.98 L181.12,184.40 L181.69,184.82 L182.25,185.24 L182.81,185.65 L183.38,186.07 L183.94,186.48 L184.51,186.90 L185.08,187.31 L185.65,187.72 L186.21,188.13 L186.78,188.54 L187.36,188.95 L187.93,189.35 L188.50,189.76 L189.07,190.16 L189.65,190.57 L190.22,190.97 L190.80,191.37 L191.37,191.77 L191.95,192.17 L192.53,192.57 L193.10,192.96 L193.68,193.36 L194.26,193.75 L194.84,194.15 L195.42,194.54 L196.01,194.93 L196.59,195.32 L197.17,195.71 L197.75,196.10 L198.34,196.49 L198.92,196.87 L199.51,197.26 L200.09,197.64 L200.68,198.03 L201.27,198.41 L201.86,198.79 L202.44,199.17 L203.03,199.55 L203.62,199.93 L204.21,200.31 L204.80,200.69 L205.40,201.07 L205.99,201.44 L206.58,201.82 L207.17,202.19 L207.77,202.56 L208.36,202.93 L208.96,203.30 L209.55,203.67 L210.15,204.04 L210.75,204.41 L211.35,204.77 L211.94,205.14 L212.54,205.50 L213.14,205.86 L213.74,206.22 L214.35,206.59 L214.95,206.94 L215.55,207.30 L216.16,207.66 L216.76,208.01 L217.37,208.37 L217.97,208.72 L218.58,209.07 L219.19,209.42 L219.79,209.77 L220.40,210.12 L221.01,210.46 L221.62,210.81 L222.23,211.15 L222.85,211.49 L223.46,211.84 L224.07,212.17 L224.69,212.51 L225.30,212.85 L225.92,213.18 L226.54,213.52 L227.15,213.85 L227.77,214.18 L228.39,214.51 L229.01,214.84 L229.63,215.16 L230.25,215.49 L230.87,215.81 L231.50,216.14 L232.12,216.46 L232.75,216.78 L233.37,217.09 L234.00,217.41 L234.62,217.73 L235.25,218.04 L235.88,218.35 L236.50,218.67 L237.13,218.98 L237.76,219.29 L238.39,219.59 L239.02,219.90 L239.65,220.21 L240.29,220.51 L240.92,220.81 L241.55,221.11 L242.19,221.42 L242.82,221.72 L243.45,222.01 L244.09,222.31 L244.72,222.61 L245.36,222.90 L246.00,223.20 L246.63,223.49 L247.27,223.78 L247.91,224.07 L248.55,224.36 L249.19,224.65 L249.83,224.94 L250.47,225.22 L251.11,225.51 L251.75,225.79 L252.39,226.07 L253.03,226.36 L253.68,226.64 L254.32,226.92 L254.96,227.20 L255.60,227.48 L256.25,227.76 L256.89,228.03 L257.54,228.31 L258.18,228.58 L258.83,228.86 L259.47,229.13 L260.12,229.40 L260.77,229.67 L261.41,229.94 L262.06,230.21 L262.71,230.48 L263.36,230.75 L264.01,231.02 L264.65,231.28 L265.30,231.55 L265.95,231.81 L266.60,232.07 L267.25,232.34 L267.91,232.60 L268.56,232.86 L269.21,233.12 L269.86,233.37 L270.51,233.63 L271.17,233.89 L271.82,234.14 L272.47,234.39 L273.13,234.65 L273.78,234.90 L274.44,235.15 L275.09,235.40 L275.75,235.65 L276.41,235.89 L277.06,236.14 L277.72,236.39 L278.38,236.63 L279.04,236.87 L279.69,237.11 L280.35,237.35 L281.01,237.59 L281.67,237.83 L282.33,238.07 L282.99,238.30 L283.65,238.54 L284.32,238.77 L284.98,239.00 L285.64,239.23 L286.30,239.46 L286.97,239.69 L287.63,239.92 L288.29,240.15 L288.96,240.37 L289.62,240.59 L290.29,240.82 L290.95,241.04 L291.62,241.26 L292.29,241.48 L292.95,241.69 L293.62,241.91 L294.29,242.13 L294.96,242.34 L295.62,242.55 L296.29,242.77 L296.96,242.98 L297.63,243.19 L298.30,243.40 L298.97,243.61 L299.64,243.81 L300.31,244.02 L300.98,244.23 L301.65,244.43 L302.32,244.63 L302.99,244.84 L303.66,245.04 L304.34,245.24 L305.01,245.44 L305.68,245.64 L306.35,245.84 L307.02,246.04 L307.70,246.24 L308.37,246.44 L309.04,246.63 L309.72,246.83 L310.39,247.03 L311.06,247.22 L311.74,247.42 L312.41,247.61 L313.09,247.80 L313.76,248.00 L314.43,248.19 L315.11,248.38 L315.78,248.57 L316.46,248.76 L317.13,248.95 L317.81,249.14 L318.48,249.33 L319.16,249.52 L319.84,249.70 L320.51,249.89 L321.19,250.08 L321.86,250.26 L322.54,250.45 L323.22,250.63 L323.89,250.82 L324.57,251.00 L325.25,251.18 L325.92,251.37 L326.60,251.55 L327.28,251.73 L327.96,251.91 L328.64,252.09 L329.31,252.27 L329.99,252.44 L330.67,252.62 L331.35,252.80 L332.03,252.98 L332.71,253.15 L333.39,253.33 L334.06,253.50 L334.74,253.67 L335.42,253.85 L336.10,254.02 L336.78,254.19 L337.46,254.36 L338.14,254.53 L338.82,254.70 L339.51,254.87 L340.19,255.04 L340.87,255.21 L341.55,255.38 L342.23,255.54 L342.91,255.71 L343.59,255.87 L344.27,256.04 L344.96,256.20 L345.64,256.36 L346.32,256.53 L347.00,256.69 L347.69,256.85 L348.37,257.01 L349.05,257.17 L349.74,257.33 L350.42,257.48 L351.10,257.64 L351.79,257.80 L352.47,257.95 L353.15,258.11 L353.84,258.26 L354.52,258.42 L355.21,258.57 L355.89,258.72 L356.58,258.87 L357.26,259.03 L357.95,259.18 L358.63,259.33 L359.32,259.47 L360.00,259.62 L360.69,259.77 L361.38,259.92 L362.06,260.06 L362.75,260.21 L363.43,260.35 L364.12,260.50 L364.81,260.64 L365.49,260.78 L366.18,260.93 L366.87,261.07 L367.55,261.21 L368.24,261.35 L368.93,261.49 L369.62,261.63 L370.30,261.77 L370.99,261.91 L371.68,262.04 L372.37,262.18 L373.06,262.32 L373.74,262.45 L374.43,262.59 L375.12,262.72 L375.81,262.85 L376.50,262.99 L377.19,263.12 L377.88,263.25 L378.57,263.38 L379.25,263.51 L379.94,263.64 L380.63,263.77 L381.32,263.90 L382.01,264.03 L382.70,264.16 L383.39,264.28 L384.08,264.41 L384.77,264.53 L385.46,264.66 L386.15,264.78 L386.84,264.91 L387.53,265.03 L388.22,265.15 L388.92,265.28 L389.61,265.40 L390.30,265.52 L390.99,265.64 L391.68,265.76 L392.37,265.88 L393.06,266.00 L393.75,266.12 L394.44,266.24 L395.14,266.35 L395.83,266.47 L396.52,266.59 L397.21,266.70 L397.90,266.82 L398.60,266.93 L399.29,267.05 L399.98,267.16 L400.67,267.27 L401.36,267.39 L402.06,267.50 L402.75,267.61 L403.44,267.72 L404.13,267.83 L404.83,267.94 L405.52,268.05 L406.21,268.16 L406.91,268.27 L407.60,268.38 L408.29,268.48 L408.99,268.59 L409.68,268.70 L410.37,268.80 L411.07,268.91 L411.76,269.01 L412.45,269.12 L413.15,269.22 L413.84,269.33 L414.53,269.43 L415.23,269.53 L415.92,269.63 L416.62,269.74 L417.31,269.84 L418.00,269.94 L418.70,270.04 L419.39,270.14 L420.09,270.24 L420.78,270.34 L421.48,270.43 L422.17,270.53 L422.87,270.63 L423.56,270.73 L424.26,270.82 L424.95,270.92 L425.64,271.01 L426.34,271.11 L427.03,271.20 L427.73,271.30 L428.42,271.39 L429.12,271.49 L429.82,271.58 L430.51,271.67 L431.21,271.76 L431.90,271.86 L432.60,271.95 L433.29,272.04 L433.99,272.13 L434.68,272.22 L435.38,272.31 L436.07,272.40 L436.77,272.49 L437.47,272.57 L438.16,272.66 L438.86,272.75 L439.55,272.84 L440.25,272.92 L440.95,273.01 L441.64,273.10 L442.34,273.18 L443.03,273.27 L443.73,273.35 L444.43,273.44 L445.12,273.52 L445.82,273.60 L446.52,273.69 L447.21,273.77 L447.91,273.85 L448.61,273.93 L449.30,274.02 L450.00,274.10 L450.70,274.18 L451.39,274.26 L452.09,274.34 L452.79,274.42 L453.48,274.50 L454.18,274.58 L454.88,274.66 L455.57,274.73 L456.27,274.81 L456.97,274.89 L457.67,274.97 L458.36,275.04 L459.06,275.12 L459.76,275.20 L460.45,275.27 L461.15,275.35 L461.85,275.42 L462.55,275.50 L463.24,275.57 L463.94,275.65 L464.64,275.72 L465.34,275.79 L466.03,275.87 L466.73,275.94 L467.43,276.01 L468.13,276.08 L468.82,276.16 L469.52,276.23 L470.22,276.30 L470.92,276.37 L471.61,276.44 L472.31,276.51 L473.01,276.58 L473.71,276.65 L474.41,276.72 L475.10,276.79 L475.80,276.85 L476.50,276.92 L477.20,276.99 L477.90,277.06 L478.59,277.13 L479.29,277.19 L479.99,277.26 L480.69,277.33 L481.39,277.39 L482.09,277.46 L482.78,277.52 L483.48,277.59 L484.18,277.65 L484.88,277.72 L485.58,277.78 L486.28,277.85 L486.97,277.91 L487.67,277.97 L488.37,278.04 L489.07,278.10 L489.77,278.16 L490.47,278.22 L491.17,278.29 L491.86,278.35 L492.56,278.41 L493.26,278.47 L493.96,278.53 L494.66,278.59 L495.36,278.65 L496.06,278.71 L496.75,278.77 L497.45,278.83 L498.15,278.89 L498.85,278.95 L499.55,279.01 L500.25,279.07 L500.95,279.13 L501.65,279.18 L502.35,279.24 L503.04,279.30 L503.74,279.36 L504.44,279.41 L505.14,279.47 L505.84,279.53 L506.54,279.58 L507.24,279.64 L507.94,279.69 L508.64,279.75 L509.34,279.80 L510.04,279.86 L510.73,279.91 L511.43,279.97 L512.13,280.02 L512.83,280.08 L513.53,280.13 L514.23,280.18 L514.93,280.24 L515.63,280.29 L516.33,280.34 L517.03,280.40 L517.73,280.45 L518.43,280.50 L519.13,280.55 L519.82,280.61 L520.52,280.66 L521.22,280.71 L521.92,280.76 L522.62,280.81 L523.32,280.86 L524.02,280.91 L524.72,280.96 L525.42,281.01 L526.12,281.06 L526.82,281.11 L527.52,281.16 L528.22,281.21 L528.92,281.26 L529.62,281.31 L530.32,281.36 L531.02,281.41 L531.72,281.45 L532.42,281.50 L533.12,281.55 L533.82,281.60 L534.52,281.65 L535.22,281.69" stroke="#00b050" stroke-width="3.2" fill="none" stroke-linecap="round" stroke-linejoin="round" stroke-dasharray="6.6 5.967" stroke-dashoffset="-0.9"/>
<path d="M52.5,211.70 H390.39" stroke="#ff0000" stroke-width="1" fill="none"/>
<path d="M225,73.3 H262.3" stroke="#000" stroke-width="2.2" fill="none"/>
<path d="M226.5,96.2 H260" stroke="#00b050" stroke-width="3" fill="none" stroke-linecap="round" stroke-dasharray="6.5 6.1"/>
<path d="M226.5,118.2 H260" stroke="#00b050" stroke-width="3" fill="none" stroke-linecap="round" stroke-dasharray="9.4 12.7"/>
<text font-size="15.1"><tspan x="239.2" y="51.6" font-size="15.8" textLength="8.0" lengthAdjust="spacingAndGlyphs">T</tspan><tspan x="247.0" y="55.7" font-size="11" textLength="16.0" lengthAdjust="spacingAndGlyphs">1/2</tspan><tspan x="266.6" y="51.6" textLength="113.3" lengthAdjust="spacingAndGlyphs">keo = 53 minutes</tspan></text>
<text x="266.2" y="79.3" font-size="15.1" text-anchor="start" textLength="165.6" lengthAdjust="spacingAndGlyphs">Plasma concentration (Cp)</text>
<text x="266.2" y="101.5" font-size="15.1" text-anchor="start" textLength="221.6" lengthAdjust="spacingAndGlyphs">Effect Site Concentration (Ce) 20 kg</text>
<text x="266.2" y="123.7" font-size="15.1" text-anchor="start" textLength="221.6" lengthAdjust="spacingAndGlyphs">Effect Site Concentration (Ce) 40 kg</text>
<text x="406.0" y="195.3" font-size="15.1" text-anchor="start" textLength="135.4" lengthAdjust="spacingAndGlyphs">Target Concentration</text>
<text x="32.7" y="298.2" font-size="12.9" text-anchor="start" textLength="7.0" lengthAdjust="spacingAndGlyphs">0</text>
<text x="32.7" y="257.6" font-size="12.9" text-anchor="start" textLength="7.0" lengthAdjust="spacingAndGlyphs">5</text>
<text x="25.7" y="217.0" font-size="12.9" text-anchor="start" textLength="14.0" lengthAdjust="spacingAndGlyphs">10</text>
<text x="25.7" y="176.4" font-size="12.9" text-anchor="start" textLength="14.0" lengthAdjust="spacingAndGlyphs">15</text>
<text x="25.7" y="135.8" font-size="12.9" text-anchor="start" textLength="14.0" lengthAdjust="spacingAndGlyphs">20</text>
<text x="25.7" y="95.2" font-size="12.9" text-anchor="start" textLength="14.0" lengthAdjust="spacingAndGlyphs">25</text>
<text x="25.7" y="54.6" font-size="12.9" text-anchor="start" textLength="14.0" lengthAdjust="spacingAndGlyphs">30</text>
<text x="25.7" y="14.0" font-size="12.9" text-anchor="start" textLength="14.0" lengthAdjust="spacingAndGlyphs">35</text>
<text x="49.0" y="317.0" font-size="12.9" text-anchor="start" textLength="7.0" lengthAdjust="spacingAndGlyphs">0</text>
<text x="145.5" y="317.0" font-size="12.9" text-anchor="start" textLength="7.0" lengthAdjust="spacingAndGlyphs">2</text>
<text x="242.1" y="317.0" font-size="12.9" text-anchor="start" textLength="7.0" lengthAdjust="spacingAndGlyphs">4</text>
<text x="338.6" y="317.0" font-size="12.9" text-anchor="start" textLength="7.0" lengthAdjust="spacingAndGlyphs">6</text>
<text x="435.2" y="317.0" font-size="12.9" text-anchor="start" textLength="7.0" lengthAdjust="spacingAndGlyphs">8</text>
<text x="528.2" y="317.0" font-size="12.9" text-anchor="start" textLength="14.0" lengthAdjust="spacingAndGlyphs">10</text>
<text x="249.6" y="339.8" font-size="15.2" text-anchor="start" textLength="89.6" lengthAdjust="spacingAndGlyphs" font-weight="bold">Time (hours)</text>
<text transform="translate(16,227.5) rotate(-90)" font-size="15.2" font-weight="bold" textLength="151.2" lengthAdjust="spacingAndGlyphs">Concentration (mg/L)</text>
</svg></body></html>
